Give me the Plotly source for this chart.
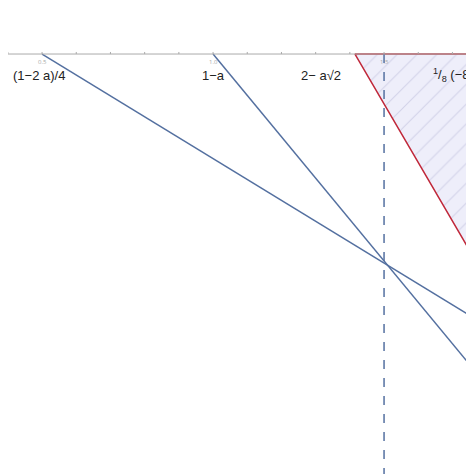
import plotly.graph_objects as go

x_line1 = [0.5, 1.85]
y_line1 = [0.0, -0.611 * 1.35]
x_line2 = [1.0, 1.85]
y_line2 = [0.0, -1.21 * 0.85]
x_red = [1.415, 1.85]
y_red = [0.0, -0.745]
x_dash = 1.5
tick_vals = [0.5, 1.0, 1.5]
tick_text = ["0.5", "1.0", "1.5"]

fig = go.Figure()
fig.add_trace(go.Scatter(x=[x_red[0], x_red[1], x_red[1], x_red[0]], y=[0, 0, y_red[1], 0],
    mode="none", fill="toself", fillcolor="rgba(235,235,250,1)",
    fillpattern=dict(shape="/", fgcolor="#b8b8d8", bgcolor="#eeeefa", size=14, solidity=0.08)))
fig.add_trace(go.Scatter(x=[x_red[1], x_red[0], x_red[1]], y=[0, 0, y_red[1]], mode="lines",
    line=dict(color="#c0283a", width=1.5)))
fig.add_trace(go.Scatter(x=x_line1, y=y_line1, mode="lines", line=dict(color="#5470a0", width=1.5)))
fig.add_trace(go.Scatter(x=x_line2, y=y_line2, mode="lines", line=dict(color="#5470a0", width=1.5)))
fig.add_trace(go.Scatter(x=[x_dash, x_dash], y=[0, -1.4], mode="lines",
    line=dict(color="#5470a0", width=1.5, dash="dash")))

fig.add_shape(type="line", x0=0, x1=2, y0=0, y1=0, line=dict(color="#aaaaaa", width=1))
for i in range(3, 19):
    t = i / 10
    fig.add_shape(type="line", x0=t, x1=t, y0=0, y1=0.006, line=dict(color="#aaaaaa", width=1))
for v, s in zip(tick_vals, tick_text):
    fig.add_annotation(x=v, y=-0.005, text=s, showarrow=False, xanchor="center", yanchor="top",
                       font=dict(size=6, color="#aaaaaa"))

labels = [(0.49, "center", "(1−2 a)/4"), (1.0, "center", "1−a"), (1.315, "center", "2− a√2"),
          (1.638, "left", "<sup>1</sup>/<sub>8</sub> (−8 a+")]
for xv, anc, s in labels:
    fig.add_annotation(x=xv, y=-0.062, text=s, showarrow=False, xanchor=anc,
                       font=dict(size=13, color="#222", family="Liberation Sans"))

fig.update_layout(width=474, height=474, margin=dict(l=0, r=0, t=0, b=0),
    plot_bgcolor="white", paper_bgcolor="white", showlegend=False,
    xaxis=dict(range=[0.4004, 1.7864], visible=False),
    yaxis=dict(range=[-1.2514, 0.1346], visible=False))
fig.write_html("out.html")
